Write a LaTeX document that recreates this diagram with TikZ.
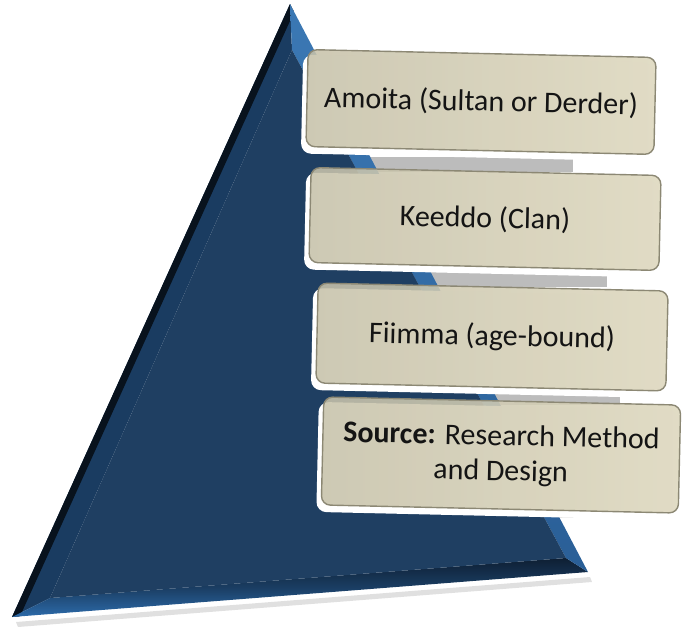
\documentclass[tikz,border=0pt]{standalone}
\usepackage{fontspec}
\setmainfont{Carlito}
\definecolor{faceblue}{HTML}{1F3F62}
\definecolor{darkbev}{HTML}{0E1F33}
\definecolor{leftbev}{HTML}{1A3C61}
\definecolor{edgeblack}{HTML}{08121D}
\definecolor{lightbev}{HTML}{2D6BAA}
\definecolor{rtop}{HTML}{3B78B4}
\definecolor{rbot}{HTML}{2A5F97}
\definecolor{boxL}{HTML}{C7C2AA}
\definecolor{boxR}{HTML}{DDD7BD}
\definecolor{boxedge}{HTML}{8C8874}
\definecolor{txt}{HTML}{141414}
\begin{document}
\begin{tikzpicture}[x=1pt,y=-1pt,
  tier/.style={rounded corners=9pt, draw=boxedge, line width=1.4pt,
    left color=boxL, right color=boxR, fill opacity=0.88, text opacity=1,
    text=txt, rotate=-1.3, align=center,
    font=\fontsize{30}{35}\selectfont,
    preaction={fill=white, draw=white, line width=2pt, fill opacity=1,
      transform canvas={shift={(-4pt,-6pt)}}}},
  shadowbar/.style={fill=black!33, opacity=0.8}]
\useasboundingbox (0,0) rectangle (685,629);
% shadows under the boxes (behind the triangle)
\fill[shadowbar] (340,157) rectangle (573,172);
\fill[shadowbar] (340,272) rectangle (607,287);
\fill[shadowbar] (340,390) rectangle (620,405);
\fill[black!15] (340,508) rectangle (640,518);
% triangle
\coordinate (A) at (290,4);
\coordinate (B) at (12,617);
\coordinate (C) at (588,572);
\coordinate (a) at (292,50);
\coordinate (b) at (50,598);
\coordinate (c) at (566,558);
\fill[black!12] (16,622) -- (590,577) -- (592,582) -- (18,627) -- cycle;
\fill[leftbev] (A) -- (B) -- (b) -- (a) -- cycle;
\begin{scope}
  \clip (A) -- (B) -- (C) -- cycle;
  \draw[edgeblack, line width=14pt] (A) -- (B);
\end{scope}
\shade[top color=darkbev, bottom color=lightbev, middle color=darkbev!60!lightbev] (B) -- (C) -- (c) -- (b) -- cycle;
\shade[top color=rtop, bottom color=rbot] (C) -- (A) -- (a) -- (c) -- cycle;
\fill[faceblue] (a) -- (b) -- (c) -- cycle;
% boxes
\node[tier, minimum width=348pt, minimum height=97pt] (t1) at (481,102) {Amoita (Sultan or Derder)};
\node[tier, minimum width=350pt, minimum height=95pt] (t2) at (485,219) {Keeddo (Clan)};
\node[tier, minimum width=350pt, minimum height=100pt] (t3) at (492,337) {Fiimma (age-bound)};
\node[tier, minimum width=357pt, minimum height=108pt] (t4) at (501,455) {\textbf{Source:} Research Method\\and Design};
\end{tikzpicture}
\end{document}
